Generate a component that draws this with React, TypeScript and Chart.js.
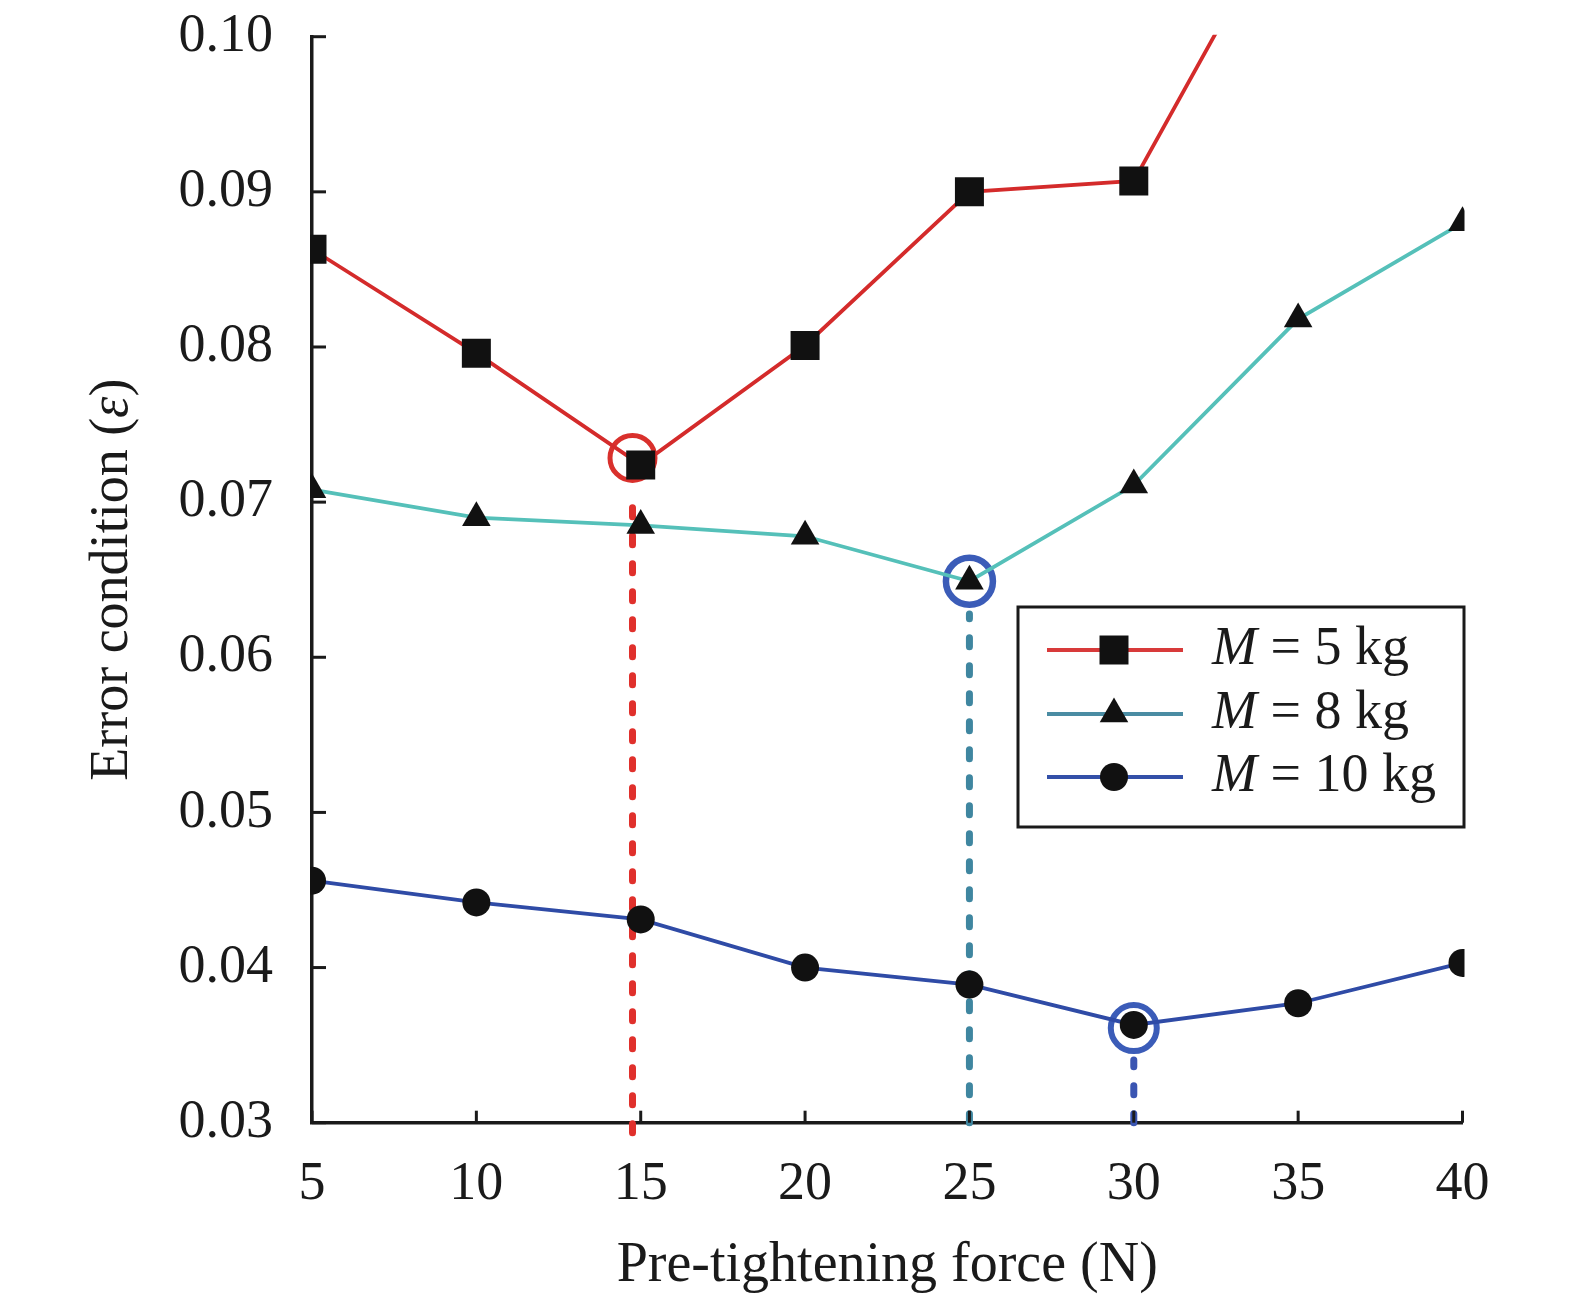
import React, { useEffect, useRef } from 'react';
import { Chart, registerables } from 'chart.js';

Chart.register(...registerables);

// ---- data ----
const forces = [5, 10, 15, 20, 25, 30, 35, 40];
const xTickValues = [5, 10, 15, 20, 25, 30, 35, 40];
const yTickValues = [0.03, 0.04, 0.05, 0.06, 0.07, 0.08, 0.09, 0.1];
const seriesLabels = ['M = 5 kg', 'M = 8 kg', 'M = 10 kg'];
const mass5 = [0.0863, 0.0796, 0.0724, 0.0801, 0.09, 0.0907, 0.1098];
const mass8 = [0.0708, 0.069, 0.0685, 0.0678, 0.0649, 0.0711, 0.0818, 0.088];
const mass10 = [0.0456, 0.0442, 0.0431, 0.04, 0.0389, 0.0363, 0.0377, 0.0403];
// optimum markers (circled points)
const optimumX = [14.75, 25, 30];
const optimumY = [0.07285, 0.0649, 0.0361];

// ---- styles ----
const FONT = 'Liberation Serif';
const TEXT = '#1a1a1a';
const lineColors = ['#d42b2b', '#55c0b9', '#2f4ba6'];
const legendLineColors = ['#d83a3a', '#4a8ca3', '#3350a8'];
const markerStyles = ['rect', 'triangle', 'circle'];
const markerRadii = [20.5, 16.5, 14];
const circleColors = ['#d9302c', '#3b5cb8', '#3b5cb8'];
const circleWidths = [5, 6.5, 6];
const circleRadii = [22.5, 23.5, 23];
const dashColors = ['#e0302c', '#3f86a0', '#3a55b2'];
const dashBelowAxis = [10, 0, 0];

const toPoints = (vals: number[]) => vals.map((y, i) => ({ x: forces[i], y }));

export default function App() {
  const ref = useRef<HTMLCanvasElement | null>(null);

  useEffect(() => {
    if (!ref.current) return;

    const insideTicks = {
      id: 'insideTicks',
      afterDraw(chart: any) {
        const { ctx, chartArea, scales } = chart;
        const xs = scales.x, ys = scales.y;
        ctx.save();
        ctx.strokeStyle = TEXT;
        ctx.lineWidth = 3;
        xTickValues.forEach((v) => {
          const px = xs.getPixelForValue(v);
          ctx.beginPath();
          ctx.moveTo(px, chartArea.bottom);
          ctx.lineTo(px, chartArea.bottom - 12);
          ctx.stroke();
        });
        yTickValues.forEach((v) => {
          const py = ys.getPixelForValue(v);
          ctx.beginPath();
          ctx.moveTo(chartArea.left, py);
          ctx.lineTo(chartArea.left + 14, py);
          ctx.stroke();
        });
        ctx.restore();
      },
    };

    const optimum = {
      id: 'optimum',
      beforeDatasetsDraw(chart: any) {
        const { ctx, chartArea, scales } = chart;
        ctx.save();
        optimumX.forEach((xv, i) => {
          const px = scales.x.getPixelForValue(xv);
          const py = scales.y.getPixelForValue(optimumY[i]);
          const r = circleRadii[i];
          // dashed drop line (drawn upward from the axis)
          ctx.save();
          ctx.strokeStyle = dashColors[i];
          ctx.lineWidth = 7;
          ctx.lineCap = 'round';
          ctx.setLineDash([9, 19]);
          ctx.beginPath();
          ctx.moveTo(px, chartArea.bottom + dashBelowAxis[i]);
          ctx.lineTo(px, py + r + circleWidths[i] / 2 + 6);
          ctx.stroke();
          ctx.restore();
          // circle
          ctx.strokeStyle = circleColors[i];
          ctx.lineWidth = circleWidths[i];
          ctx.beginPath();
          ctx.arc(px, py, r, 0, Math.PI * 2);
          ctx.stroke();
        });
        ctx.restore();
      },
    };

    const yTitle = {
      id: 'yTitle',
      afterDraw(chart: any) {
        const { ctx, chartArea } = chart;
        const cy = (chartArea.top + chartArea.bottom) / 2;
        const reg = `54px "${FONT}"`;
        const ital = `italic 54px "${FONT}"`;
        const parts: [string, string][] = [
          ['Error condition (', reg],
          ['ε', ital],
          [')', reg],
        ];
        ctx.save();
        let total = 0;
        parts.forEach(([t, f]) => {
          ctx.font = f;
          total += ctx.measureText(t).width;
        });
        ctx.translate(113, cy);
        ctx.rotate(-Math.PI / 2);
        ctx.fillStyle = TEXT;
        ctx.textBaseline = 'middle';
        ctx.textAlign = 'left';
        let x = -total / 2;
        parts.forEach(([t, f]) => {
          ctx.font = f;
          ctx.fillText(t, x, 0);
          x += ctx.measureText(t).width;
        });
        ctx.restore();
      },
    };

    const legendBox = {
      id: 'legendBox',
      afterDraw(chart: any) {
        const { ctx } = chart;
        const bx = 1018, by = 607, bw = 446, bh = 220;
        const rowY = [650, 714, 777];
        ctx.save();
        ctx.fillStyle = '#ffffff';
        ctx.fillRect(bx, by, bw, bh);
        ctx.strokeStyle = TEXT;
        ctx.lineWidth = 3;
        ctx.strokeRect(bx, by, bw, bh);
        chart.data.datasets.forEach((ds: any, i: number) => {
          const y = rowY[i];
          ctx.strokeStyle = legendLineColors[i];
          ctx.lineWidth = 4;
          ctx.beginPath();
          ctx.moveTo(1047, y);
          ctx.lineTo(1183, y);
          ctx.stroke();
          const mx = 1114;
          const r = markerRadii[i];
          ctx.fillStyle = '#111111';
          ctx.beginPath();
          if (markerStyles[i] === 'rect') {
            const s = r * Math.SQRT1_2;
            ctx.rect(mx - s, y - s, 2 * s, 2 * s);
          } else if (markerStyles[i] === 'triangle') {
            const h = r * 1.5, w = r * Math.sqrt(3);
            ctx.moveTo(mx, y - r);
            ctx.lineTo(mx + w / 2, y - r + h);
            ctx.lineTo(mx - w / 2, y - r + h);
            ctx.closePath();
          } else {
            ctx.arc(mx, y, r, 0, Math.PI * 2);
          }
          ctx.fill();
          const label: string = ds.label;
          ctx.fillStyle = TEXT;
          ctx.textBaseline = 'middle';
          ctx.textAlign = 'left';
          ctx.font = `italic 54px "${FONT}"`;
          const first = label.slice(0, 1);
          ctx.fillText(first, 1212, y);
          let x = 1212 + ctx.measureText(first).width;
          ctx.font = `54px "${FONT}"`;
          ctx.fillText(label.slice(1), x, y);
        });
        ctx.restore();
      },
    };

    const datasets = [mass5, mass8, mass10].map((vals, i) => ({
      label: seriesLabels[i],
      data: toPoints(vals),
      borderColor: lineColors[i],
      backgroundColor: '#111111',
      borderWidth: 3.8,
      pointStyle: markerStyles[i] as any,
      pointRadius: markerRadii[i],
      pointBackgroundColor: '#111111',
      pointBorderColor: '#111111',
      pointBorderWidth: 0,
      tension: 0,
      clip: 2,
    }));

    const chart = new Chart(ref.current, {
      type: 'line',
      data: { datasets },
      plugins: [optimum, insideTicks, yTitle, legendBox],
      options: {
        animation: false,
        responsive: false,
        devicePixelRatio: 1,
        layout: { padding: { left: 0, right: 112.5, top: 36.7, bottom: 0 } },
        plugins: { legend: { display: false }, tooltip: { enabled: false } },
        scales: {
          x: {
            type: 'linear',
            min: 5,
            max: 40,
            afterFit: (s: any) => {
              s.height = 182.3;
              s.paddingLeft = 0;
              s.paddingRight = 0;
            },
            afterBuildTicks: (s: any) => { s.ticks = xTickValues.map((v) => ({ value: v })); },
            grid: { display: true, drawOnChartArea: false, drawTicks: false },
            border: { display: true, color: TEXT, width: 3.5 },
            ticks: {
              padding: 30,
              color: TEXT,
              font: { family: FONT, size: 54 },
              maxRotation: 0,
              callback: (v: any) => String(v),
            },
            title: {
              display: true,
              text: 'Pre-tightening force (N)',
              color: TEXT,
              font: { family: FONT, size: 56 },
              padding: { top: 0, bottom: 5 },
            },
          },
          y: {
            type: 'linear',
            min: 0.03,
            max: 0.1,
            afterFit: (s: any) => {
              s.width = 312;
              s.paddingTop = 0;
              s.paddingBottom = 0;
            },
            afterBuildTicks: (s: any) => { s.ticks = yTickValues.map((v) => ({ value: v })); },
            grid: { display: true, drawOnChartArea: false, drawTicks: false },
            border: { display: true, color: TEXT, width: 3.5 },
            ticks: {
              padding: 39,
              color: TEXT,
              font: { family: FONT, size: 54 },
              callback: (v: any) => Number(v).toFixed(2),
            },
          },
        },
      },
    });
    return () => chart.destroy();
  }, []);

  return (
    <div style={{ position: 'absolute', left: 0, top: 0, width: 1575, height: 1305, background: '#fff' }}>
      <canvas ref={ref} width={1575} height={1305} style={{ display: 'block' }} />
    </div>
  );
}
